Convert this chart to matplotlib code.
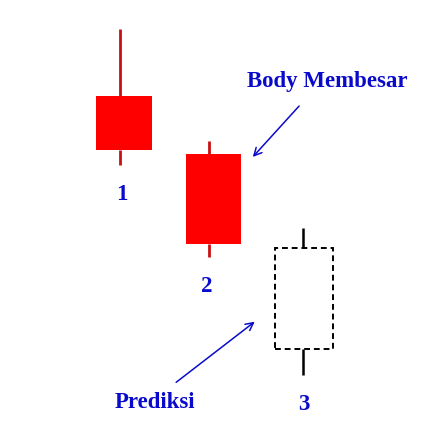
import matplotlib
matplotlib.use("Agg")
import matplotlib.pyplot as plt
from matplotlib.patches import Rectangle

# Data
labels = ["1", "2", "3"]
highs = [414, 302, 215]
opens = [347, 289, 195]
closes = [293, 199, 94]
lows = [278, 186, 68]
styles = ["solid", "solid", "predicted"]

annot_texts = ["Body Membesar", "Prediksi"]

fig = plt.figure(figsize=(4.30, 4.43), dpi=100)
ax = fig.add_axes([0, 0, 1, 1])
ax.set_xlim(-0.385, 4.42)
ax.set_ylim(0, 443)
ax.axis("off")

blue = "#0A0ACC"
font = dict(family="Liberation Serif", weight="bold", color=blue, fontsize=16.5)
width = 0.62
wick_off = [-0.045, -0.055, 0.0]
label_off = [-0.02, -0.08, 0.01]

for i, (lab, h, o, c, l, st) in enumerate(zip(labels, highs, opens, closes, lows, styles)):
    x = i + 1
    top, bot = max(o, c), min(o, c)
    wx = x + wick_off[i]
    if st == "solid":
        ax.add_patch(Rectangle((x - width / 2, bot), width, top - bot,
                               facecolor="#FF0000", edgecolor="none", zorder=2))
        ax.plot([wx, wx], [top, h], color="#C81010", lw=2, zorder=1, solid_capstyle="butt")
        ax.plot([wx, wx], [l, bot], color="#C81010", lw=2, zorder=1, solid_capstyle="butt")
    else:
        ax.add_patch(Rectangle((x - width / 2, bot), width + 0.03, top - bot,
                               facecolor="none", edgecolor="black", lw=1.4,
                               linestyle=(0, (3, 2)), zorder=2))
        ax.plot([wx, wx], [top, h], color="black", lw=1.8, zorder=1, solid_capstyle="butt")
        ax.plot([wx, wx], [l, bot], color="black", lw=1.8, zorder=1, solid_capstyle="butt")
    ax.text(x + label_off[i], l - 29, lab, ha="center", va="center", **font)

ax.text(3.27, 362, annot_texts[0], ha="center", va="center", **font)
ax.annotate("", xy=(2.419, 284), xytext=(2.978, 339),
            arrowprops=dict(arrowstyle="->,head_length=0.55,head_width=0.28",
                            color=blue, lw=1.1))
ax.text(1.346, 40, annot_texts[1], ha="center", va="center", **font)
ax.annotate("", xy=(2.486, 123), xytext=(1.559, 59),
            arrowprops=dict(arrowstyle="->,head_length=0.55,head_width=0.28",
                            color=blue, lw=1.1))

fig.savefig("out.png", dpi=100, facecolor="white")
